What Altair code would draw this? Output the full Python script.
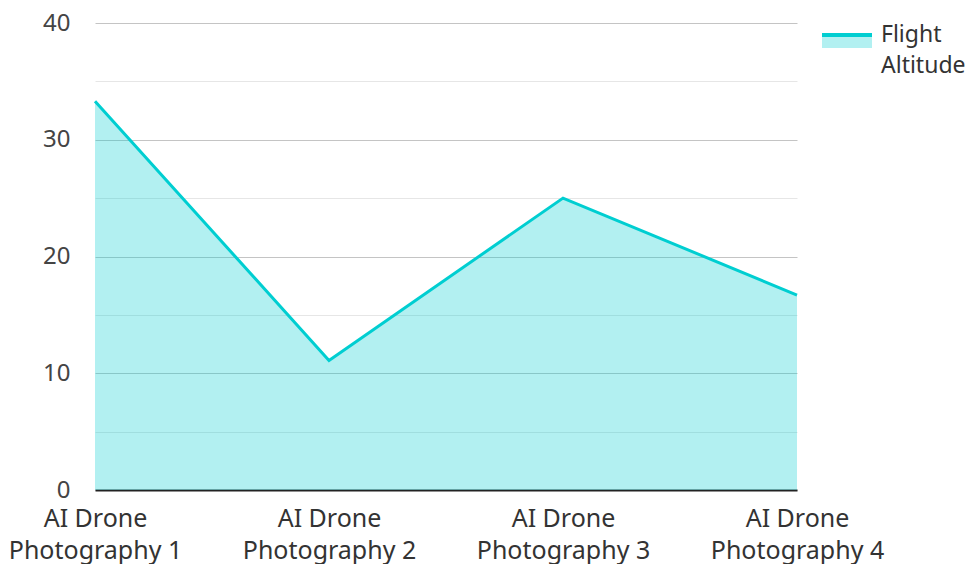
import altair as alt
import pandas as pd

categories = ["AI Drone Photography 1", "AI Drone Photography 2", "AI Drone Photography 3", "AI Drone Photography 4"]
altitude = [33.3, 11.1, 25.0, 16.7]
series_name = "Flight Altitude"
y_ticks = [0, 5, 10, 15, 20, 25, 30, 35, 40]

df = pd.DataFrame({"cat": categories, "val": altitude})

W, H = 702, 467
LINE = "#00CED1"
FS = 24

x = alt.X("cat:N", sort=categories, title=None,
          scale=alt.Scale(type="point", padding=0),
          axis=alt.Axis(labelAngle=0, labelFont="Noto Sans", labelFontSize=25,
                        labelColor="#333", labelExpr="[slice(datum.label, 0, 8), slice(datum.label, 9)]",
                        labelLineHeight=32, labelPadding=16, ticks=False,
                        domainColor="#222", domainWidth=2, grid=False, labelBaseline="top"))
y = alt.Y("val:Q", title=None,
          scale=alt.Scale(domain=[0, 40], nice=False),
          axis=alt.Axis(values=y_ticks, labelFont="Noto Sans", labelFontSize=FS,
                        labelColor="#444", ticks=False, domain=False, labelPadding=25,
                        labelExpr="datum.value % 10 == 0 ? datum.label : ''",
                        gridColor={"condition": {"test": "datum.value % 10 == 0", "value": "#c4c4c4"},
                                   "value": "#e6e6e6"},
                        gridWidth=1))

base = alt.Chart(df)
area = base.mark_area(color=LINE, opacity=0.3).encode(x=x, y=y)
line = base.mark_line(color=LINE, strokeWidth=3).encode(x=x, y=y)

leg_df = pd.DataFrame({"name": [series_name]})
leg_rect = alt.Chart(leg_df).mark_rect(color=LINE, opacity=0.3).encode(
    x=alt.value(727), x2=alt.value(777), y=alt.value(10), y2=alt.value(25))
leg_line = alt.Chart(leg_df).mark_rule(color=LINE, strokeWidth=4).encode(
    x=alt.value(727), x2=alt.value(777), y=alt.value(12))
leg_text = alt.Chart(leg_df).transform_calculate(t="split(datum.name, ' ')").mark_text(
    align="left", baseline="top", font="Noto Sans", fontSize=23, color="#333", lineHeight=31
).encode(x=alt.value(786), y=alt.value(1), text="t:N")

chart = alt.layer(area, line, leg_rect, leg_line, leg_text).properties(
    width=W, height=H,
    autosize=alt.AutoSizeParams(type="none"),
    padding={"left": 87, "top": 15, "right": 170, "bottom": 74},
).configure_view(stroke=None, clip=False)

chart.save("out.html", embed_options={"renderer": "svg", "actions": False})
